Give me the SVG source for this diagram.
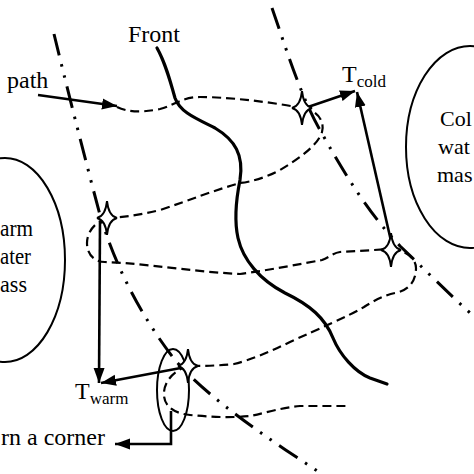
<svg xmlns="http://www.w3.org/2000/svg" width="474" height="474" viewBox="0 0 474 474">
<defs>
<style>
.bg{fill:#fff}
.ell{fill:none;stroke:#000;stroke-width:2}
.dd{fill:none;stroke:#000;stroke-width:3;stroke-dasharray:22 9 2.5 9 2.5 9}
.front{fill:none;stroke:#000;stroke-width:3.2;stroke-linecap:round;stroke-linejoin:round}
.traj{fill:none;stroke:#000;stroke-width:2.2;stroke-dasharray:9 5}
.arr{fill:none;stroke:#000;stroke-width:2.6;marker-end:url(#ah)}
.star{fill:#fff;stroke:#000;stroke-width:2;stroke-linejoin:miter}
text{font-family:"Liberation Serif","Times New Roman",serif;font-size:24px;fill:#000}
.sub{font-size:17px}
.cold{font-size:22px}
</style>
<marker id="ah" markerUnits="userSpaceOnUse" markerWidth="16" markerHeight="12" refX="15" refY="6" orient="auto">
<path d="M0,0.5 L15,6 L0,11.5 z" fill="#000"/>
</marker>
<path id="starShape" d="M0,-17 Q1.5,-2 10,0 Q1.5,2 0,17 Q-1.5,2 -10,0 Q-1.5,-2 0,-17 z"/>
</defs>
<rect class="bg" width="474" height="474"/>

<g id="warm-water-mass">
<ellipse class="ell" cx="5" cy="260" rx="60" ry="102"/>
<text x="0" y="236" textLength="33" lengthAdjust="spacingAndGlyphs">arm</text>
<text x="0" y="264" textLength="31" lengthAdjust="spacingAndGlyphs">ater</text>
<text x="0" y="292" textLength="27" lengthAdjust="spacingAndGlyphs">ass</text>
</g>

<g id="cold-water-mass">
<ellipse class="ell" cx="470" cy="147" rx="64" ry="101"/>
<text class="cold" x="440" y="126">Col</text>
<text class="cold" x="438" y="154">wat</text>
<text class="cold" x="437" y="182">mas</text>
</g>

<g id="dash-dot-lines">
<path class="dd" d="M54,34 C70,100 88,170 100,215 C115,265 140,315 175,360 C210,400 270,440 325,476"/>
<path class="dd" d="M272,8 C285,45 300,95 320,130 C345,175 370,215 400,246 C420,265 450,295 480,322"/>
</g>

<g id="front">
<path class="front" d="M157,48 C165,62 170,80 175,98 C180,112 195,118 215,128 C235,140 244,155 240,180 C236,200 234,220 238,238 C243,260 260,280 285,293 C310,305 325,318 333,338 C340,355 355,372 370,378 L387,384"/>
<text x="128" y="42">Front</text>
</g>

<g id="trajectory">
<path class="traj" d="M117,107 C128,112 140,113 160,109 C175,105 182,97 200,97 C225,97 265,101 302,108"/>
<path class="traj" d="M302,108 C318,110 325,122 322,132 C318,145 300,158 280,170 C265,178 250,182 240,183 C215,190 190,200 160,210 C140,215 125,217 107,218"/>
<path class="traj" d="M107,218 C95,222 87,232 87,243 C87,255 95,262 105,262 L125,263 C160,266 200,272 240,274 C270,270 300,264 322,260 C330,257 333,253 340,252 L391,249"/>
<path class="traj" d="M391,249 C405,250 416,258 416,268 C416,280 410,290 395,293 C385,295 375,300 364,307 C345,318 320,328 290,342 C270,352 250,360 234,364 C215,366 200,366 188,366"/>
<path class="traj" d="M188,366 C175,370 165,380 164,392 C163,405 172,413 190,415 C210,417 230,418 250,416 C265,413 280,408 300,406 L347,406"/>
</g>

<g id="corner">
<ellipse class="ell" cx="173" cy="390" rx="16" ry="41"/>
</g>

<g id="connectors">
<line class="arr" x1="38" y1="95" x2="117" y2="106"/>
<line class="arr" x1="305" y1="108" x2="355" y2="91"/>
<line class="arr" x1="391" y1="241" x2="357" y2="92"/>
<line class="arr" x1="100" y1="222" x2="99" y2="383"/>
<line class="arr" x1="186" y1="367" x2="101" y2="383"/>
<polyline class="arr" points="171,411 171,444 115,444"/>
</g>

<g id="star1"><use href="#starShape" class="star" transform="translate(107,218)"/></g>
<g id="star2"><use href="#starShape" class="star" transform="translate(302,108)"/></g>
<g id="star3"><use href="#starShape" class="star" transform="translate(391,250)"/></g>
<g id="star4"><use href="#starShape" class="star" transform="translate(188,366)"/></g>

<g id="labels">
<text x="7" y="88">path</text>
<text x="342" y="82">T<tspan class="sub" dy="5">cold</tspan></text>
<text x="75" y="399">T<tspan class="sub" dy="5">warm</tspan></text>
<text x="1" y="445">rn a corner</text>
</g>
</svg>
